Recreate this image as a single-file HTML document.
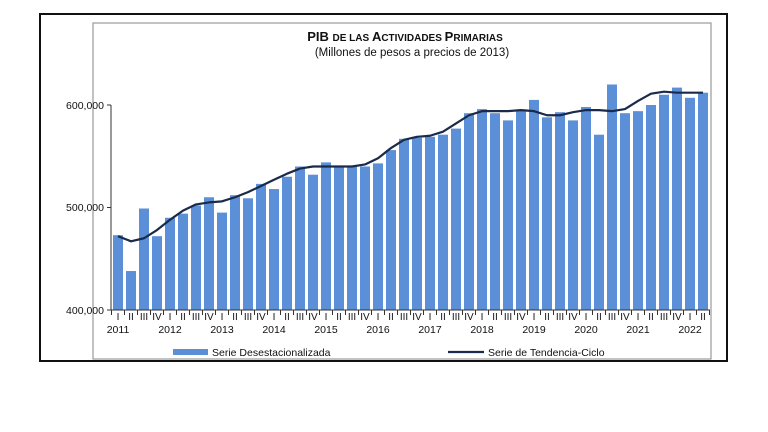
<!DOCTYPE html>
<html><head><meta charset="utf-8"><style>
html,body{margin:0;padding:0;background:#fff;}
svg{display:block;font-family:"Liberation Sans",Arial,sans-serif;}
</style></head><body>
<svg width="768" height="432" viewBox="0 0 768 432" xmlns="http://www.w3.org/2000/svg">
<rect x="40" y="14" width="687" height="347" fill="#fff" stroke="#111" stroke-width="2"/>
<rect x="93" y="23" width="618" height="336" fill="none" stroke="#999" stroke-width="1.2"/>
<text x="405" y="41" text-anchor="middle" font-size="13" font-weight="bold" fill="#111">PIB <tspan font-size="10">DE LAS </tspan>A<tspan font-size="10">CTIVIDADES </tspan>P<tspan font-size="10">RIMARIAS</tspan></text>
<text x="412" y="56" text-anchor="middle" font-size="11.5" fill="#111">(Millones de pesos a precios de 2013)</text>
<g fill="#5b8fd8">
<rect x="113" y="235.2" width="10" height="74.8"/>
<rect x="126" y="271.05" width="10" height="38.95"/>
<rect x="139" y="208.5" width="10" height="101.5"/>
<rect x="152" y="236.2" width="10" height="73.8"/>
<rect x="165" y="217.75" width="10" height="92.25"/>
<rect x="178" y="213.65" width="10" height="96.35"/>
<rect x="191" y="205.45" width="10" height="104.55"/>
<rect x="204" y="197.25" width="10" height="112.75"/>
<rect x="217" y="212.6" width="10" height="97.4"/>
<rect x="230" y="195.2" width="10" height="114.8"/>
<rect x="243" y="198.3" width="10" height="111.7"/>
<rect x="256" y="183.9" width="10" height="126.1"/>
<rect x="269" y="189.05" width="10" height="120.95"/>
<rect x="282" y="176.75" width="10" height="133.25"/>
<rect x="295" y="166.5" width="10" height="143.5"/>
<rect x="308" y="174.7" width="10" height="135.3"/>
<rect x="321" y="162.4" width="10" height="147.6"/>
<rect x="334" y="166.5" width="10" height="143.5"/>
<rect x="347" y="166.5" width="10" height="143.5"/>
<rect x="360" y="166.5" width="10" height="143.5"/>
<rect x="373" y="163.4" width="10" height="146.6"/>
<rect x="386" y="150.1" width="10" height="159.9"/>
<rect x="399" y="138.8" width="10" height="171.2"/>
<rect x="412" y="137.8" width="10" height="172.2"/>
<rect x="425" y="136.8" width="10" height="173.2"/>
<rect x="438" y="134.7" width="10" height="175.3"/>
<rect x="451" y="128.6" width="10" height="181.4"/>
<rect x="464" y="113.2" width="10" height="196.8"/>
<rect x="477" y="109.1" width="10" height="200.9"/>
<rect x="490" y="113.2" width="10" height="196.8"/>
<rect x="503" y="120.4" width="10" height="189.6"/>
<rect x="516" y="110.1" width="10" height="199.9"/>
<rect x="529" y="99.9" width="10" height="210.1"/>
<rect x="542" y="117.3" width="10" height="192.7"/>
<rect x="555" y="112.2" width="10" height="197.8"/>
<rect x="568" y="120.4" width="10" height="189.6"/>
<rect x="581" y="107" width="10" height="203"/>
<rect x="594" y="134.7" width="10" height="175.3"/>
<rect x="607" y="84.5" width="10" height="225.5"/>
<rect x="620" y="113.2" width="10" height="196.8"/>
<rect x="633" y="111.15" width="10" height="198.85"/>
<rect x="646" y="105" width="10" height="205"/>
<rect x="659" y="94.75" width="10" height="215.25"/>
<rect x="672" y="87.6" width="10" height="222.4"/>
<rect x="685" y="97.8" width="10" height="212.2"/>
<rect x="698" y="92.7" width="10" height="217.3"/>
</g>
<polyline fill="none" stroke="#1a2a4a" stroke-width="2.2" stroke-linejoin="round" points="118,236.2 131,241.3 144,238.25 157,230.05 170,219.8 183,210.6 196,204.4 209,202.4 222,201.35 235,197.25 248,192.1 261,186 274,179.8 287,173.7 300,168.55 313,166.5 326,166.5 339,166.5 352,166.5 365,164.45 378,158.3 391,148.05 404,139.85 417,136.8 430,135.75 443,131.65 456,123.45 469,115.25 482,111.15 495,111.15 508,111.15 521,110.1 534,111.15 547,115.25 560,115.25 573,112.2 586,110.1 599,110.1 612,111.15 625,109.1 638,100.9 651,93.7 664,91.7 677,92.7 690,92.7 703,92.7"/>
<g stroke="#333" stroke-width="1">
<line x1="111" y1="105" x2="111" y2="310"/>
<line x1="111" y1="310" x2="710" y2="310"/>
<line x1="107" y1="105" x2="111" y2="105"/>
<line x1="107" y1="207.5" x2="111" y2="207.5"/>
<line x1="107" y1="310" x2="111" y2="310"/>
</g>
<path stroke="#333" stroke-width="1" d="M111.5 310v5M124.5 310v5M137.5 310v5M150.5 310v5M163.5 310v5M176.5 310v5M189.5 310v5M202.5 310v5M215.5 310v5M228.5 310v5M241.5 310v5M254.5 310v5M267.5 310v5M280.5 310v5M293.5 310v5M306.5 310v5M319.5 310v5M332.5 310v5M345.5 310v5M358.5 310v5M371.5 310v5M384.5 310v5M397.5 310v5M410.5 310v5M423.5 310v5M436.5 310v5M449.5 310v5M462.5 310v5M475.5 310v5M488.5 310v5M501.5 310v5M514.5 310v5M527.5 310v5M540.5 310v5M553.5 310v5M566.5 310v5M579.5 310v5M592.5 310v5M605.5 310v5M618.5 310v5M631.5 310v5M644.5 310v5M657.5 310v5M670.5 310v5M683.5 310v5M696.5 310v5M709.5 310v5"/>
<g font-size="10.5" fill="#111" text-anchor="end">
<text x="104" y="109">600,000</text>
<text x="104" y="211">500,000</text>
<text x="104" y="314">400,000</text>
</g>
<g font-size="10" fill="#111" text-anchor="middle">
<text x="118" y="320">I</text><text x="131" y="320">II</text><text x="144" y="320">III</text><text x="157" y="320">IV</text>
<text x="170" y="320">I</text><text x="183" y="320">II</text><text x="196" y="320">III</text><text x="209" y="320">IV</text>
<text x="222" y="320">I</text><text x="235" y="320">II</text><text x="248" y="320">III</text><text x="261" y="320">IV</text>
<text x="274" y="320">I</text><text x="287" y="320">II</text><text x="300" y="320">III</text><text x="313" y="320">IV</text>
<text x="326" y="320">I</text><text x="339" y="320">II</text><text x="352" y="320">III</text><text x="365" y="320">IV</text>
<text x="378" y="320">I</text><text x="391" y="320">II</text><text x="404" y="320">III</text><text x="417" y="320">IV</text>
<text x="430" y="320">I</text><text x="443" y="320">II</text><text x="456" y="320">III</text><text x="469" y="320">IV</text>
<text x="482" y="320">I</text><text x="495" y="320">II</text><text x="508" y="320">III</text><text x="521" y="320">IV</text>
<text x="534" y="320">I</text><text x="547" y="320">II</text><text x="560" y="320">III</text><text x="573" y="320">IV</text>
<text x="586" y="320">I</text><text x="599" y="320">II</text><text x="612" y="320">III</text><text x="625" y="320">IV</text>
<text x="638" y="320">I</text><text x="651" y="320">II</text><text x="664" y="320">III</text><text x="677" y="320">IV</text>
<text x="690" y="320">I</text><text x="703" y="320">II</text>
</g>
<g font-size="10.5" fill="#111" text-anchor="middle">
<text x="118" y="333">2011</text><text x="170" y="333">2012</text><text x="222" y="333">2013</text><text x="274" y="333">2014</text>
<text x="326" y="333">2015</text><text x="378" y="333">2016</text><text x="430" y="333">2017</text><text x="482" y="333">2018</text>
<text x="534" y="333">2019</text><text x="586" y="333">2020</text><text x="638" y="333">2021</text><text x="690" y="333">2022</text>
</g>
<rect x="173" y="349" width="35" height="6" fill="#5b8fd8"/>
<text x="212" y="356" font-size="10.5" fill="#111">Serie Desestacionalizada</text>
<line x1="448" y1="352" x2="484" y2="352" stroke="#1a2a4a" stroke-width="2.2"/>
<text x="488" y="356" font-size="10.5" fill="#111">Serie de Tendencia-Ciclo</text>
</svg>
</body></html>
